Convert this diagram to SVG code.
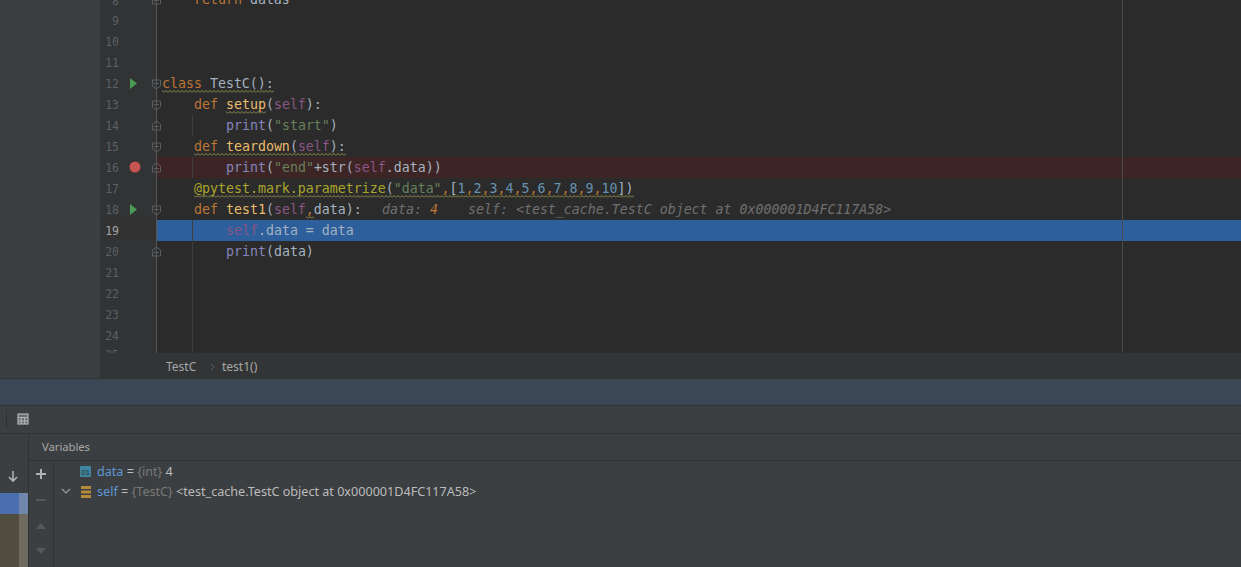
<svg xmlns="http://www.w3.org/2000/svg" width="1241" height="567" viewBox="0 0 1241 567">
<style>
.c{font-family:"DejaVu Sans Mono","Liberation Mono",monospace;font-size:13.28px;fill:#a4b1bf;white-space:pre}
.n{font-family:"DejaVu Sans Mono","Liberation Mono",monospace;font-size:11.5px;fill:#5d6062;text-anchor:end}
.k{fill:#bd7636}.f{fill:#eabb6b}.s{fill:#66805a}.e{fill:#8a5585}.b{fill:#8585bd}.d{fill:#aaa52c}.u{fill:#6791b0}
.h{font-style:italic;fill:#6f6f6f}
.ui{font-family:"Noto Sans","Open Sans",Arial,sans-serif;font-size:12px;fill:#a8a8a8;white-space:pre}
.v{font-family:"Noto Sans","Open Sans",Arial,sans-serif;font-size:12.6px;fill:#bbbbbb;white-space:pre}
.vn{fill:#5c96d6}.t{fill:#787878}
.g{fill:none;stroke:#5a5d5f;stroke-width:1}
.w{fill:url(#wave)}
.sep{stroke:#323232;fill:none}
</style>
<defs>
<pattern id="wave" width="4" height="3" patternUnits="userSpaceOnUse">
<path d="M0 2.5L2 0.5L4 2.5" fill="none" stroke="#aaa655" stroke-width="0.8"/>
</pattern>
<path id="foldD" d="M-4-4H4V2L0 5L-4 2Z M-2.5-0.5H2.5"/>
<path id="foldU" d="M-4 4H4V-2L0-5L-4-2Z M-2.5 0.5H2.5"/>
</defs>
<rect width="1241" height="567" fill="#3c3f41"/>
<rect id="gutter" x="100" y="0" width="57" height="353" fill="#313335"/>
<rect id="editor" x="157" y="0" width="1084" height="353" fill="#2b2b2b"/>
<rect x="157" y="157" width="1084" height="21" fill="#3d2525"/>
<rect x="157" y="220" width="1084" height="21" fill="#2d5f9c"/>
<rect x="100" y="220" width="57" height="21" fill="#323232"/>
<path d="M1122.5 0V353" stroke="#4a4a4a" fill="none"/>
<path d="M156.5 0V353" stroke="#555" fill="none"/>
<path d="M192.5 115V136M192.5 157V178M192.5 220V353" stroke="#3d3d3d" fill="none"/>
<g id="linenumbers">
<text class="n" x="119" y="5">8</text>
<text class="n" x="119" y="25">9</text>
<text class="n" x="119" y="46">10</text>
<text class="n" x="119" y="67">11</text>
<text class="n" x="119" y="88">12</text>
<text class="n" x="119" y="109">13</text>
<text class="n" x="119" y="130">14</text>
<text class="n" x="119" y="151">15</text>
<text class="n" x="119" y="172">16</text>
<text class="n" x="119" y="193">17</text>
<text class="n" x="119" y="214">18</text>
<text class="n" x="119" y="235" style="fill:#a4a3a3">19</text>
<text class="n" x="119" y="256">20</text>
<text class="n" x="119" y="277">21</text>
<text class="n" x="119" y="298">22</text>
<text class="n" x="119" y="319">23</text>
<text class="n" x="119" y="340">24</text>
<text class="n" x="119" y="359">25</text>
</g>
<rect id="breadcrumbbar" x="100" y="353" width="1141" height="25" fill="#323436"/>
<g id="markers">
<path d="M130 78L137 83.5L130 89Z" fill="#499c54"/>
<path d="M130 204L137 209.5L130 215Z" fill="#499c54"/>
<circle cx="135" cy="167" r="5.5" fill="#c75450"/>
</g>
<g id="folds" class="g">
<use href="#foldU" x="156.5" y="0"/>
<use href="#foldD" x="156.5" y="84"/>
<use href="#foldD" x="156.5" y="105"/>
<use href="#foldU" x="156.5" y="126"/>
<use href="#foldD" x="156.5" y="147"/>
<use href="#foldU" x="156.5" y="168"/>
<use href="#foldD" x="156.5" y="210"/>
<use href="#foldU" x="156.5" y="252"/>
</g>
<g id="squiggles">
<rect class="w" x="162" y="90" width="112" height="3"/>
<rect class="w" x="226" y="111" width="40" height="3"/>
<rect class="w" x="194" y="153" width="152" height="3"/>
<rect class="w" x="194" y="195" width="440" height="3"/>
<rect class="w" x="306" y="216" width="8" height="3"/>
</g>
<g id="code">
<text class="c" x="194" y="4"><tspan class="k">return</tspan> datas</text>
<text class="c" x="162" y="88"><tspan class="k">class</tspan> TestC():</text>
<text class="c" x="194" y="109"><tspan class="k">def</tspan> <tspan class="f">setup</tspan>(<tspan class="e">self</tspan>):</text>
<text class="c" x="226" y="130"><tspan class="b">print</tspan>(<tspan class="s">"start"</tspan>)</text>
<text class="c" x="194" y="151"><tspan class="k">def</tspan> <tspan class="f">teardown</tspan>(<tspan class="e">self</tspan>):</text>
<text class="c" x="226" y="172"><tspan class="b">print</tspan>(<tspan class="s">"end"</tspan>+str(<tspan class="e">self</tspan>.data))</text>
<text class="c" x="194" y="193"><tspan class="d">@pytest.mark.parametrize</tspan>(<tspan class="s">"data"</tspan><tspan class="k">,</tspan>[<tspan class="u">1</tspan><tspan class="k">,</tspan><tspan class="u">2</tspan><tspan class="k">,</tspan><tspan class="u">3</tspan><tspan class="k">,</tspan><tspan class="u">4</tspan><tspan class="k">,</tspan><tspan class="u">5</tspan><tspan class="k">,</tspan><tspan class="u">6</tspan><tspan class="k">,</tspan><tspan class="u">7</tspan><tspan class="k">,</tspan><tspan class="u">8</tspan><tspan class="k">,</tspan><tspan class="u">9</tspan><tspan class="k">,</tspan><tspan class="u">10</tspan>])</text>
<text class="c" x="194" y="214"><tspan class="k">def</tspan> <tspan class="f">test1</tspan>(<tspan class="e">self</tspan><tspan class="k">,</tspan>data):</text>
<text class="c h" x="382" y="214">data: <tspan class="k">4</tspan></text>
<text class="c h" x="468" y="214">self: &lt;test_cache.TestC object at 0x000001D4FC117A58&gt;</text>
<text class="c" x="226" y="235"><tspan class="e">self</tspan>.data = data</text>
<text class="c" x="226" y="256"><tspan class="b">print</tspan>(data)</text>
</g>
<g id="breadcrumbs">
<text class="ui" x="166" y="371">TestC</text>
<path d="M211 364L214 367L211 370" fill="none" stroke="#5a5d5f"/>
<text class="ui" x="222" y="371">test1()</text>
</g>
<rect id="statusband" x="0" y="378" width="1241" height="27" fill="#3b4754"/>
<path class="sep" d="M0 378.5H1241M0 405.5H1241M0 433.5H1241M28 460.5H1241M6.5 409V429M28.5 434V567M53.5 461V567"/>
<g id="calc" fill="none" stroke="#afb1b3" stroke-width="1.2">
<rect x="18" y="414" width="10" height="10" fill="#6a6d6f"/>
<path d="M18 417.5H28M18 421H28M21.3 417V424M24.7 417V424"/>
</g>
<g id="sidepanel">
<rect x="0" y="493" width="28" height="74" fill="#514c40"/>
<rect x="0" y="493" width="19" height="21" fill="#4b6eaf"/>
<rect x="19" y="493" width="9" height="21" fill="#6f87ab"/>
<rect x="19" y="514" width="9" height="53" fill="#6f6a5f"/>
<path d="M13 471V481M9 477L13 481L17 477" fill="none" stroke="#afb1b3" stroke-width="1.6"/>
<path d="M41 469V479M36 474H46" fill="none" stroke="#afb1b3" stroke-width="2"/>
<path d="M36 500H46" stroke="#55585a" stroke-width="2"/>
<path d="M36 529L41 523L46 529Z M36 548L41 554L46 548Z" fill="#55585a"/>
</g>
<text class="ui" x="42" y="451" style="font-size:11.2px">Variables</text>
<g id="var-data">
<rect x="80" y="466" width="11" height="11" fill="#40859f"/>
<text x="81.5" y="474.5" font-family="Liberation Sans,sans-serif" font-size="7.5" fill="#2b2b2b">01</text>
<text class="v" x="97" y="476"><tspan class="vn">data</tspan> = <tspan class="t">{int}</tspan> 4</text>
</g>
<g id="var-self">
<path d="M62 489L66 493L70 489" fill="none" stroke="#9a9c9e" stroke-width="1.2"/>
<rect x="81" y="486" width="10" height="3" fill="#b5893a"/>
<rect x="81" y="490.5" width="10" height="3" fill="#b5893a"/>
<rect x="81" y="495" width="10" height="3" fill="#b5893a"/>
<text class="v" x="97" y="496"><tspan class="vn">self</tspan> = <tspan class="t">{TestC}</tspan> &lt;test_cache.TestC object at 0x000001D4FC117A58&gt;</text>
</g>
</svg>
